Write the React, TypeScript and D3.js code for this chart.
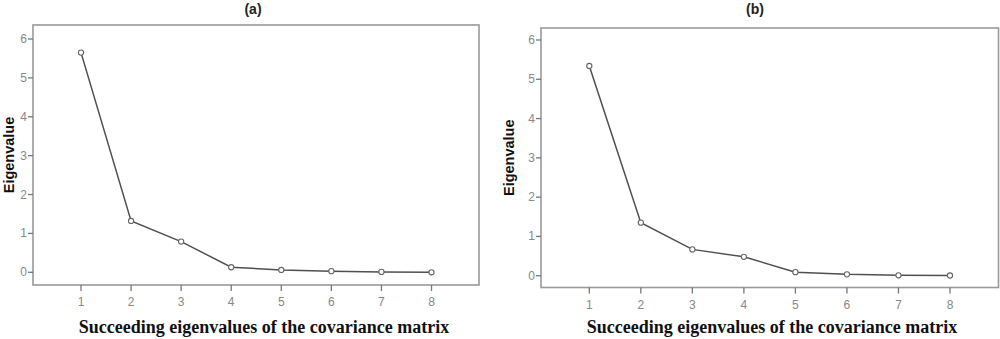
import { useEffect, useRef } from 'react'
import * as d3 from 'd3'

// component indices and eigenvalues
const components = [1, 2, 3, 4, 5, 6, 7, 8]
const eigenA = [5.65, 1.32, 0.79, 0.13, 0.06, 0.03, 0.01, 0.0]
const eigenB = [5.34, 1.35, 0.67, 0.48, 0.09, 0.035, 0.01, 0.005]
const yTicks = [0, 1, 2, 3, 4, 5, 6]
const titles = ['(a)', '(b)']
const xLabel = 'Succeeding eigenvalues of the covariance matrix'
const yLabel = 'Eigenvalue'

type PanelBox = {
  left: number; right: number; top: number; bottom: number
  x1: number; x8: number; y0: number; y6: number
  yLabelX: number; titleX: number; xLabelX: number
}

const boxes: PanelBox[] = [
  { left: 33, right: 479, top: 25, bottom: 285, x1: 81, x8: 431.5, y0: 272.3, y6: 39, yLabelX: 14, titleX: 253, xLabelX: 264 },
  { left: 541, right: 998.5, top: 28, bottom: 287.5, x1: 589.3, x8: 950, y0: 275.7, y6: 40, yLabelX: 514, titleX: 755, xLabelX: 772 }
]

function drawPanel(g: d3.Selection<SVGGElement, unknown, null, undefined>, values: number[], box: PanelBox, title: string) {
  const x = d3.scaleLinear().domain([1, 8]).range([box.x1, box.x8])
  const y = d3.scaleLinear().domain([0, 6]).range([box.y0, box.y6])

  // frame
  g.append('rect')
    .attr('x', box.left).attr('y', box.top)
    .attr('width', box.right - box.left).attr('height', box.bottom - box.top)
    .attr('fill', 'white')
    .attr('stroke', '#9a9a9a')
    .attr('stroke-width', 1.6)

  // y axis ticks
  yTicks.forEach(t => {
    g.append('line')
      .attr('x1', box.left - 5).attr('x2', box.left)
      .attr('y1', y(t)).attr('y2', y(t))
      .attr('stroke', '#777').attr('stroke-width', 1.3)
    g.append('text')
      .text(t)
      .attr('x', box.left - 6).attr('y', y(t) + 4)
      .attr('text-anchor', 'end')
      .attr('fill', '#888')
      .attr('font-family', 'Liberation Sans, Arial, sans-serif')
      .attr('font-size', '12px')
  })

  // x axis ticks
  components.forEach(c => {
    g.append('line')
      .attr('x1', x(c)).attr('x2', x(c))
      .attr('y1', box.bottom).attr('y2', box.bottom + 6)
      .attr('stroke', '#777').attr('stroke-width', 1.3)
    g.append('text')
      .text(c)
      .attr('x', x(c)).attr('y', box.bottom + 21)
      .attr('text-anchor', 'middle')
      .attr('fill', '#888')
      .attr('font-family', 'Liberation Sans, Arial, sans-serif')
      .attr('font-size', '12px')
  })

  const pts = components.map((c, i) => [x(c), y(values[i])] as [number, number])

  g.append('path')
    .attr('d', d3.line()(pts))
    .attr('fill', 'none')
    .attr('stroke', '#505050')
    .attr('stroke-width', 1.5)

  g.selectAll('circle.pt')
    .data(pts)
    .enter()
    .append('circle')
    .attr('class', 'pt')
    .attr('cx', d => d[0]).attr('cy', d => d[1])
    .attr('r', 2.6)
    .attr('fill', 'white')
    .attr('stroke', '#666')
    .attr('stroke-width', 1.1)

  g.append('text')
    .text(title)
    .attr('x', box.titleX).attr('y', 14)
    .attr('text-anchor', 'middle')
    .attr('font-family', 'Liberation Sans, Arial, sans-serif')
    .attr('font-weight', 'bold')
    .attr('font-size', '14px')
    .attr('fill', '#222')

  g.append('text')
    .text(yLabel)
    .attr('transform', `translate(${box.yLabelX}, ${(box.top + box.bottom) / 2}) rotate(-90)`)
    .attr('text-anchor', 'middle')
    .attr('font-family', 'Liberation Sans, Arial, sans-serif')
    .attr('font-weight', 'bold')
    .attr('font-size', '14.5px')
    .attr('fill', '#111')

  g.append('text')
    .text(xLabel)
    .attr('x', box.xLabelX).attr('y', 333)
    .attr('text-anchor', 'middle')
    .attr('font-family', 'Liberation Serif, Times New Roman, serif')
    .attr('font-weight', 'bold')
    .attr('font-size', '18px')
    .attr('fill', '#111')
}

export default function App() {
  const svgRef = useRef<SVGSVGElement>(null)

  useEffect(() => {
    const svg = d3.select(svgRef.current)
    svg.selectAll('*').remove()
    svg.attr('width', 1000).attr('height', 339).style('background', 'white')

    drawPanel(svg.append('g'), eigenA, boxes[0], titles[0])
    drawPanel(svg.append('g'), eigenB, boxes[1], titles[1])
  }, [])

  return (
    <div style={{ position: 'absolute', left: 0, top: 0 }}>
      <svg ref={svgRef} />
    </div>
  )
}
